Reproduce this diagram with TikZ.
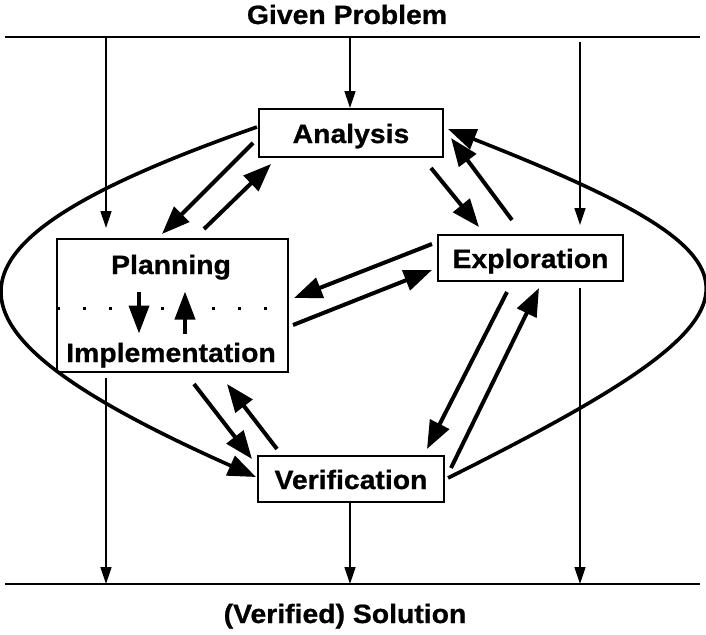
\documentclass[tikz,border=0pt]{standalone}
\usepackage{fontspec}
\setmainfont[FakeStretch=1.07, BoldFeatures={FakeBold=0.8}]{Liberation Sans}
\usetikzlibrary{arrows.meta}
\begin{document}
\begin{tikzpicture}[x=1pt,y=-1pt,
  every node/.style={font=\fontsize{26.5}{31}\selectfont\bfseries, inner sep=0pt},
  box/.style={draw, line width=2pt, text height=20pt, text depth=0pt},
  thinline/.style={line width=1.4pt},
  thinarr/.style={line width=1.4pt, -{Triangle[length=17pt,width=11pt]}},
  thk/.style={line width=4pt, -{Triangle[length=28pt,width=21pt]}},
  curve/.style={line width=3.6pt, -{Triangle[length=28pt,width=21pt]}},
  innerarr/.style={line width=4pt, -{Triangle[length=28pt,width=20pt]}}]
\useasboundingbox (0,0) rectangle (706,634);
% title texts
\node[anchor=base] (given) at (347,24) {Given Problem};
\node[anchor=base] (sol) at (345,623) {(Verified) Solution};
% boxes
\node[box, minimum width=184pt, minimum height=48pt] (ana) at (351,133) {Analysis};
\node[box, minimum width=185pt, minimum height=46pt] (expl) at (530.5,258) {Exploration};
\node[box, minimum width=186pt, minimum height=46pt] (ver) at (351,479) {Verification};
\node[draw, line width=2pt, minimum width=231pt, minimum height=133pt] (plan) at (172.5,305.5) {};
\node[anchor=base] (plant) at (171,274) {Planning};
\node[anchor=base] (implt) at (171,362) {Implementation};
% dotted separator
\foreach \x in {58,84,110,162,213,239,265}
  \fill (\x-1.5,307) rectangle ++(3.2,3.2);
\draw[innerarr] ([shift={(-33.5,-14)}]plan.center) -- ([shift={(-33.5,28)}]plan.center);
\draw[innerarr] ([shift={(12.5,28)}]plan.center) -- ([shift={(12.5,-14)}]plan.center);
% top and bottom lines
\coordinate (topL) at (5,37);
\coordinate (topR) at (700,37);
\coordinate (botL) at (5,584);
\coordinate (botR) at (700,584);
\coordinate (t1) at (106,37);
\coordinate (t2) at (350,37);
\coordinate (t3) at (580,42);
\coordinate (b1) at (106,584);
\coordinate (b2) at (350,584);
\coordinate (b3) at (580,584);
\draw[thinline] (topL) -- (topR);
\draw[thinline] (botL) -- (botR);
% thin vertical arrows
\draw[thinarr, shorten >=10pt] (t1) -- (t1 |- plan.north);
\draw[thinarr] (t2) -- (t2 |- ana.north);
\draw[thinarr, shorten >=9pt] (t3) -- (t3 |- expl.north);
\draw[thinarr, shorten <=5pt] (plan.south -| b1) -- (b1);
\draw[thinarr] (ver.south -| b2) -- (b2);
\draw[thinarr, shorten <=6pt] (expl.south -| b3) -- (b3);
% thick arrows
\draw[thk] ([shift={(-5,10)}]ana.west) -- ([shift={(106,-4)}]plan.north west);
\draw[thk] ([shift={(148,-9)}]plan.north west) -- ([shift={(13,6)}]ana.south west);
\draw[thk] ([shift={(-13,10)}]ana.south east) -- ([shift={(42,-7)}]expl.north west);
\draw[thk] ([shift={(75,-14)}]expl.north west) -- ([shift={(7,5)}]ana.east);
\draw[thk] ([shift={(-5,-14)}]expl.west) -- ([shift={(5,-7.5)}]plan.east);
\draw[thk] ([shift={(4,19.5)}]plan.east) -- ([shift={(-5,12)}]expl.west);
\draw[thk] ([shift={(70,10)}]expl.south west) -- ([shift={(-18,-6)}]ver.north east);
\draw[thk] ([shift={(6,-11)}]ver.east) -- ([shift={(102,6)}]expl.south west);
\draw[thk] ([shift={(138,11)}]plan.south west) -- ([shift={(-5,4)}]ver.north west);
\draw[thk] ([shift={(20,-6)}]ver.north west) -- ([shift={(171,11)}]plan.south west);
% big curves
\draw[curve] ([shift={(-1,-6)}]ana.west) .. controls (-80,245) and (-80,327) .. ([shift={(-1,-2)}]ver.west);
\draw[curve] ([shift={(3,-1)}]ver.east) .. controls (788,308) and (788,263) .. ([shift={(4,-4)}]ana.east);
\end{tikzpicture}
\end{document}
